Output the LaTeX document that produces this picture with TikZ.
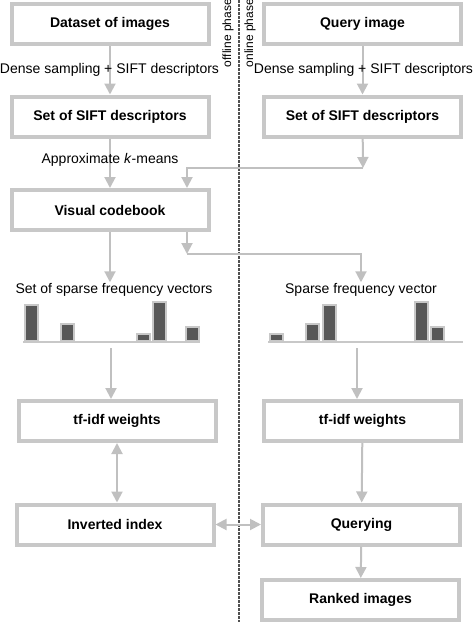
\documentclass[tikz,border=0pt]{standalone}
\usepackage{fontspec}
\setmainfont{Liberation Sans}
\usetikzlibrary{arrows.meta}
\definecolor{boxgray}{RGB}{200,200,200}
\definecolor{arrgray}{RGB}{192,192,192}
\definecolor{bardark}{RGB}{88,88,88}
\definecolor{divgray}{RGB}{80,80,80}
\tikzset{
  >={Triangle[length=11pt,width=11pt]},
  box/.style={draw=boxgray, line width=4pt, minimum width=197pt, minimum height=40pt, font=\fontsize{14}{16}\selectfont\bfseries},
  conn/.style={draw=arrgray, line width=2pt},
  lbl/.style={font=\fontsize{14}{16}\selectfont, inner sep=1pt},
  phase/.style={font=\fontsize{12}{14}\selectfont, rotate=90, anchor=east, inner sep=0pt},
  bar/.style={fill=bardark, draw=boxgray, line width=1.5pt},
}
\begin{document}
\begin{tikzpicture}[x=1pt,y=-1pt]
\useasboundingbox (0,0) rectangle (474,641);
% divider between the two phases
\coordinate (divtop) at (239,0);
\coordinate (divbot) at (239,622);
\draw[divgray, line width=1.8pt, dash pattern=on 2.5pt off 1.5pt] (divtop) -- (divbot);
\node[phase] (offl) at (228,-1) {offline phase};
\node[phase] (onl) at (250,-1) {online phase};
% boxes
\node[box] (data) at (110,24) {Dataset of images};
\node[box] (query) at (362.5,24) {Query image};
\node[box] (sift1) at (110,116.5) {Set of SIFT descriptors};
\node[box] (sift2) at (362.5,116.5) {Set of SIFT descriptors};
\node[box] (codebook) at (110,210) {Visual codebook};
\node[box] (tfidf1) at (117,421) {tf-idf weights};
\node[box] (tfidf2) at (362.5,421) {tf-idf weights};
\node[box] (index) at (115,524.5) {Inverted index};
\node[box] (querying) at (361.5,524.5) {Querying};
\node[box] (ranked) at (360.5,600) {Ranked images};
\node[lbl] (sfv1) at (114,290) {Set of sparse frequency vectors};
\node[lbl] (sfv2) at (361,290) {Sparse frequency vector};
% histograms
\draw[boxgray, line width=2pt] (23,342) -- (200,342);
\draw[boxgray, line width=2pt] (268,342) -- (463,342);
\foreach \x/\t in {25/305, 61/324, 137/334, 153/302, 186/327, 270/334, 306/324, 323/305, 415/302, 431/327}
  \filldraw[bar] (\x,\t) rectangle (\x+13,341);
\coordinate (h1) at (111,348);
\coordinate (h2) at (357,348);
\coordinate (kq) at (363,168);
\coordinate (kv) at (187,254);
% connectors
\draw[conn,->] (data) -- (sift1);
\draw[conn,->] (query) -- (sift2);
\draw[conn,->] (sift1) -- (codebook);
\draw[conn,->] (sift2) -- (kq);
\draw[conn,->] (kq) -| ([xshift=77pt]codebook.north);
\draw[conn,->] (codebook.south) -- (codebook.south |- sfv1.north);
\draw[conn,->] ([xshift=77pt]codebook.south) -- (kv);
\draw[conn,->] (kv) -| (sfv2.north);
\draw[conn,->] (h1) -- (h1 |- tfidf1.north);
\draw[conn,->] (h2) -- (h2 |- tfidf2.north);
\draw[conn,<->] (tfidf1.south) -- (tfidf1.south |- index.north);
\draw[conn,<->] (index) -- (querying);
\draw[conn,->] (tfidf2) -- (querying);
\draw[conn,->] (querying) -- (ranked);
% labels over the lines
\node[lbl] (dense1) at (109.5,70) {Dense sampling + SIFT descriptors};
\node[lbl] (dense2) at (363.5,70) {Dense sampling + SIFT descriptors};
\node[lbl] (kmeans) at (110,160) {Approximate \textit{k}-means};
\end{tikzpicture}
\end{document}
